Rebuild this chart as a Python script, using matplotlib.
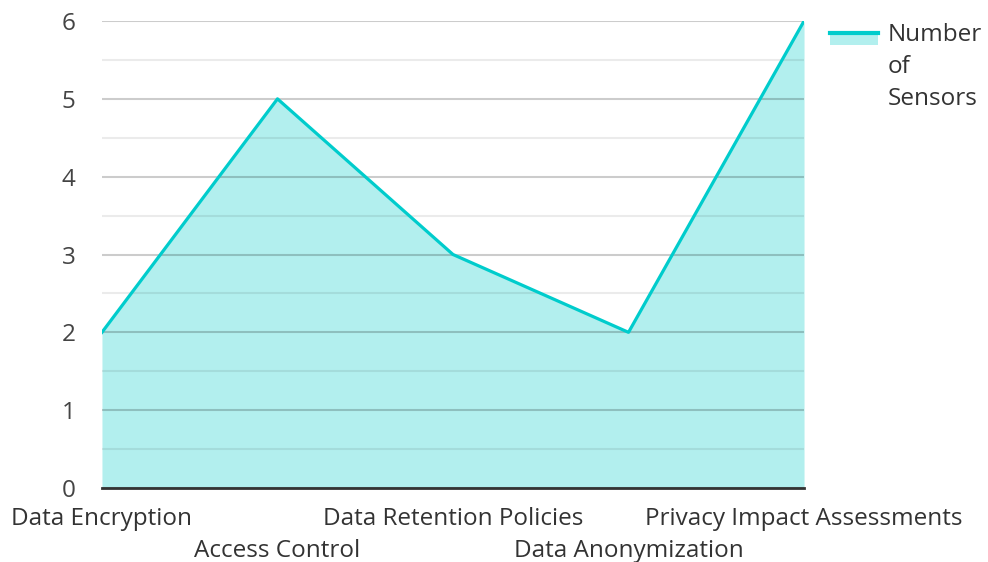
import matplotlib.pyplot as plt
from matplotlib.patches import Rectangle
from matplotlib.lines import Line2D
from matplotlib.ticker import MultipleLocator

plt.rcParams['font.family'] = ['Open Sans', 'DejaVu Sans']

# data
categories = ['Data Encryption', 'Access Control', 'Data Retention Policies',
              'Data Anonymization', 'Privacy Impact Assessments']
sensors = [2, 5, 3, 2, 6]
series_name = 'Number\nof\nSensors'

line_color = '#00cccc'
fill_color = '#b2efee'
fs = 17.5

fig = plt.figure(figsize=(9.88, 5.62), dpi=100)
ax = fig.add_axes([0.1032, 0.1317, 0.7106, 0.8309])

x = list(range(len(categories)))
ax.fill_between(x, sensors, 0, color=fill_color, zorder=1, linewidth=0)
ax.plot(x, sensors, color=line_color, linewidth=2.3, zorder=3)

ax.set_xlim(0, len(categories) - 1)
ax.set_ylim(0, 6)
ax.yaxis.set_major_locator(MultipleLocator(1))
ax.yaxis.set_minor_locator(MultipleLocator(0.5))
ax.grid(axis='y', which='major', color='#000000', alpha=0.2, linewidth=1.5, zorder=2)
ax.grid(axis='y', which='minor', color='#000000', alpha=0.08, linewidth=1.5, zorder=2)
ax.set_axisbelow(False)

# staggered category labels: odd ones pushed to a second row
ax.set_xticks(x)
ax.set_xticklabels(categories, fontsize=fs, color='#333333')
ax.tick_params(axis='x', length=0, pad=13.5)
for i, tick in enumerate(ax.xaxis.get_major_ticks()):
    if i % 2 == 1:
        tick.set_pad(36.5)
ax.tick_params(axis='y', which='both', length=0, pad=19, labelsize=fs, labelcolor='#444444')

for side in ['top', 'right', 'left']:
    ax.spines[side].set_visible(False)
ax.spines['bottom'].set_color('#333333')
ax.spines['bottom'].set_linewidth(2)
ax.spines['bottom'].set_zorder(4)

# legend drawn by hand: fill swatch with line on top, wrapped label
fig.add_artist(Rectangle((0.8401, 0.9199), 0.0486, 0.0214, transform=fig.transFigure,
                         facecolor=fill_color, edgecolor='none'))
fig.add_artist(Line2D([0.8401, 0.8887], [0.9413, 0.9413], transform=fig.transFigure,
                      color=line_color, linewidth=3))
fig.text(0.8988, 0.9595, series_name, fontsize=fs, color='#333333',
         va='top', ha='left', linespacing=1.44)

fig.savefig('out.png', dpi=100)
